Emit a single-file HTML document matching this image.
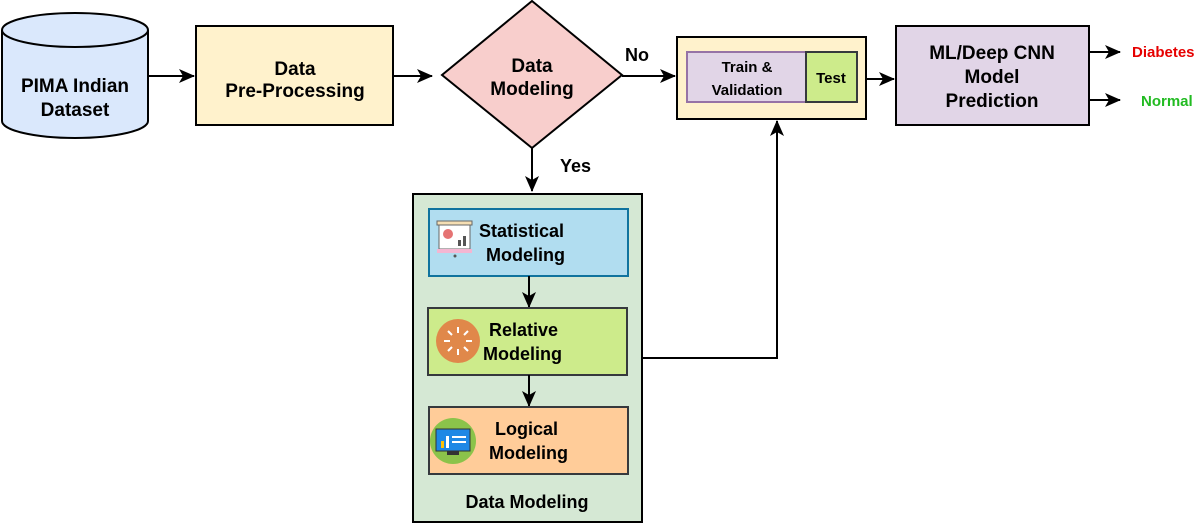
<!DOCTYPE html>
<html><head><meta charset="utf-8"><style>body{margin:0;background:#fff}svg{display:block}text{font-family:"Liberation Sans",Arial,sans-serif;font-weight:bold}</style></head>
<body>
<svg width="1200" height="524" viewBox="0 0 1200 524" xmlns="http://www.w3.org/2000/svg">
<defs><marker id="a" markerWidth="16" markerHeight="14" refX="15" refY="7" orient="auto" markerUnits="userSpaceOnUse"><path d="M0,0 L16,7 L0,14 L4,7 z" fill="#000"/></marker></defs>
<g stroke="#000" stroke-width="2" fill="none">
<path d="M2,30 L2,121 A73,17 0 0 0 148,121 L148,30" fill="#dae8fc"/>
<ellipse cx="75" cy="30" rx="73" ry="17" fill="#dae8fc"/>
<line x1="148" y1="76" x2="194" y2="76" marker-end="url(#a)"/>
<rect x="196" y="26" width="197" height="99" fill="#fff2cc"/>
<line x1="393" y1="76" x2="432" y2="76" marker-end="url(#a)"/>
<polygon points="532,1 622,75 532,148 442,75" fill="#f8cecc"/>
<line x1="622" y1="76" x2="675" y2="76" marker-end="url(#a)"/>
<line x1="532" y1="148" x2="532" y2="191" marker-end="url(#a)"/>
<rect x="677" y="37" width="189" height="82" fill="#fff2cc"/>
<rect x="687" y="52" width="119" height="50" fill="#e1d5e7" stroke="#9673a6"/>
<rect x="806" y="52" width="51" height="50" fill="#cdeb8b" stroke="#36393d"/>
<line x1="866" y1="79" x2="894" y2="79" marker-end="url(#a)"/>
<rect x="896" y="26" width="193" height="99" fill="#e1d5e7"/>
<line x1="1089" y1="52" x2="1120" y2="52" marker-end="url(#a)"/>
<line x1="1089" y1="100" x2="1120" y2="100" marker-end="url(#a)"/>
<rect x="413" y="194" width="229" height="328" fill="#d5e8d4"/>
<polyline points="642,358 777,358 777,121" marker-end="url(#a)"/>
<rect x="429" y="209" width="199" height="67" fill="#b1ddf0" stroke="#10739e"/>
<line x1="529" y1="276" x2="529" y2="307" marker-end="url(#a)"/>
<rect x="428" y="308" width="199" height="67" fill="#cdeb8b" stroke="#36393d"/>
<line x1="529" y1="375" x2="529" y2="406" marker-end="url(#a)"/>
<rect x="429" y="407" width="199" height="67" fill="#ffcc99" stroke="#36393d"/>
</g>
<g>
<rect x="437" y="221" width="35" height="4" fill="#f5deb3" stroke="#666"/>
<rect x="439" y="225" width="31" height="24" fill="#fff" stroke="#666"/>
<circle cx="448" cy="234" r="5" fill="#e57373"/>
<rect x="458" y="240" width="3" height="6" fill="#555"/><rect x="463" y="236" width="3" height="10" fill="#555"/>
<rect x="437" y="249" width="35" height="4" fill="#f4b6d2"/>
<circle cx="455" cy="256" r="1.5" fill="#555"/>
<circle cx="458" cy="341" r="22" fill="#e0884a"/>
<g stroke="#fff" stroke-width="2"><line x1="458" y1="327" x2="458" y2="333"/><line x1="458" y1="349" x2="458" y2="355"/><line x1="444" y1="341" x2="450" y2="341"/><line x1="466" y1="341" x2="472" y2="341"/><line x1="448" y1="331" x2="452" y2="335"/><line x1="464" y1="347" x2="468" y2="351"/><line x1="468" y1="331" x2="464" y2="335"/><line x1="448" y1="351" x2="452" y2="347"/></g>
<circle cx="453" cy="441" r="23" fill="#8bc34a"/>
<rect x="436" y="429" width="34" height="22" fill="#1e88e5" stroke="#333"/>
<rect x="441" y="441" width="3" height="7" fill="#ffc107"/><rect x="446" y="436" width="3" height="12" fill="#fff"/>
<line x1="452" y1="437" x2="466" y2="437" stroke="#fff" stroke-width="2"/><line x1="452" y1="442" x2="466" y2="442" stroke="#fff" stroke-width="2"/>
<rect x="447" y="451" width="12" height="4" fill="#333"/>
</g>
<g font-size="19" text-anchor="middle">
<text x="75" y="92">PIMA Indian</text><text x="75" y="116">Dataset</text>
<text x="295" y="75">Data</text><text x="295" y="97">Pre-Processing</text>
<text x="532" y="72">Data</text><text x="532" y="95">Modeling</text>
<text x="992" y="59">ML/Deep CNN</text><text x="992" y="83">Model</text><text x="992" y="107">Prediction</text>
</g>
<g font-size="15" text-anchor="middle">
<text x="747" y="72">Train &amp;</text><text x="747" y="95">Validation</text>
<text x="831" y="83">Test</text>
</g>
<g font-size="18">
<text x="625" y="61">No</text>
<text x="560" y="172">Yes</text>
<text x="479" y="237">Statistical</text><text x="486" y="261">Modeling</text>
<text x="489" y="336">Relative</text><text x="483" y="360">Modeling</text>
<text x="495" y="435">Logical</text><text x="489" y="459">Modeling</text>
<text x="527" y="508" text-anchor="middle">Data Modeling</text>
</g>
<text x="1132" y="57" font-size="15" fill="#e60000">Diabetes</text>
<text x="1141" y="106" font-size="15" fill="#22bb22">Normal</text>
</svg>
</body></html>
